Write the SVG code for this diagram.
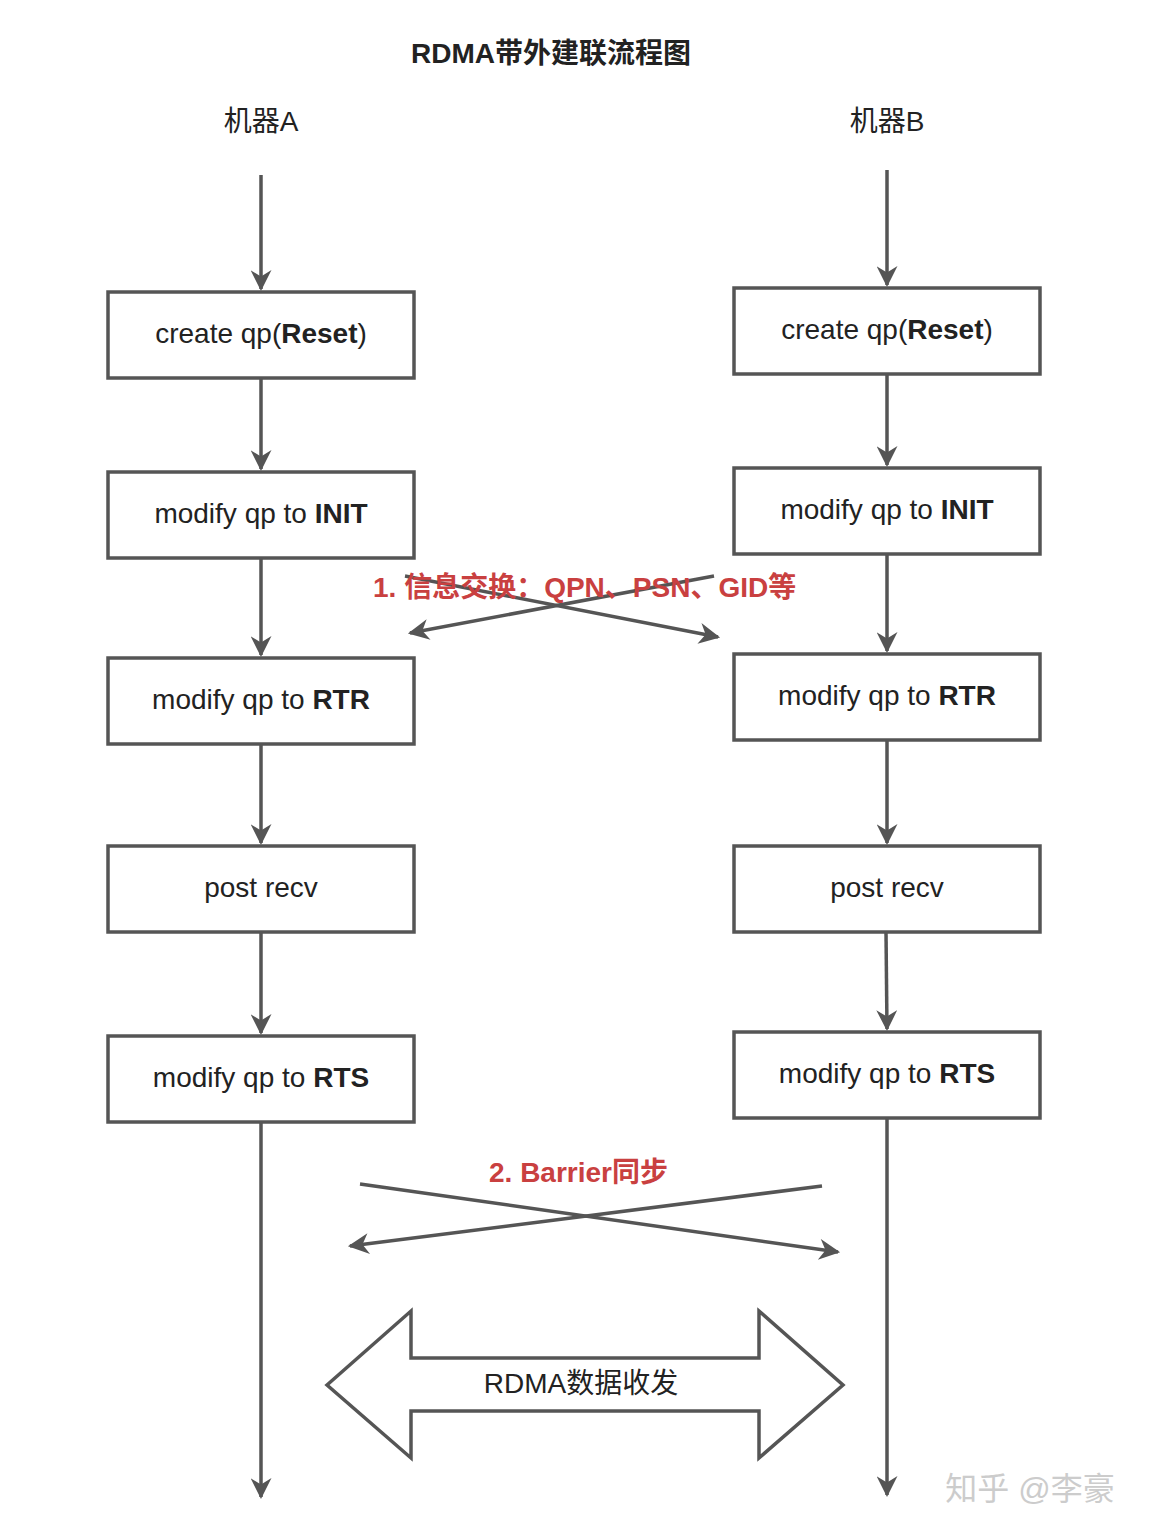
<svg xmlns="http://www.w3.org/2000/svg" width="1149" height="1533" viewBox="0 0 1149 1533">
<style>
.box{fill:#fff;stroke:#555;stroke-width:3.5}
.t{font-family:"Liberation Sans","Noto Sans CJK SC",sans-serif;font-size:28px;fill:#222;text-anchor:middle}
.c{stroke:#555;stroke-width:3.5;fill:none}
.r{font-family:"Liberation Sans","Noto Sans CJK SC",sans-serif;font-size:28px;font-weight:bold;fill:#c94040}
</style>
<defs>
<marker id="a" viewBox="0 0 10 10" refX="9" refY="5" markerWidth="6.5" markerHeight="6" orient="auto" markerUnits="strokeWidth"><path d="M0,0 L10,5 L0,10 L3,5z" fill="#555"/></marker>
</defs>
<rect width="1149" height="1533" fill="#fff"/>
<text x="551" y="63" class="t" font-weight="bold">RDMA带外建联流程图</text>
<text x="261" y="131" class="t">机器A</text>
<text x="887" y="131" class="t">机器B</text>
<g id="connectors">
<path class="c" marker-end="url(#a)" d="M261,175V289"/>
<path class="c" marker-end="url(#a)" d="M261,378V469"/>
<path class="c" marker-end="url(#a)" d="M261,558V655"/>
<path class="c" marker-end="url(#a)" d="M261,744V843"/>
<path class="c" marker-end="url(#a)" d="M261,932V1033"/>
<path class="c" marker-end="url(#a)" d="M261,1122V1497"/>
<path class="c" marker-end="url(#a)" d="M887,170V285"/>
<path class="c" marker-end="url(#a)" d="M887,374V465"/>
<path class="c" marker-end="url(#a)" d="M887,554V651"/>
<path class="c" marker-end="url(#a)" d="M887,740V843"/>
<path class="c" marker-end="url(#a)" d="M886,932L887,1029"/>
<path class="c" marker-end="url(#a)" d="M887,1118V1495"/>
<path class="c" marker-end="url(#a)" d="M405,576L718,637"/>
<path class="c" marker-end="url(#a)" d="M714,576L410,633"/>
<path class="c" marker-end="url(#a)" d="M360,1184L838,1252"/>
<path class="c" marker-end="url(#a)" d="M822,1186L350,1246"/>
</g>
<g id="n1"><rect class="box" x="108" y="292" width="306" height="86"/><text x="261" y="343" class="t">create qp(<tspan font-weight="bold">Reset</tspan>)</text></g>
<g id="n2"><rect class="box" x="108" y="472" width="306" height="86"/><text x="261" y="523" class="t">modify qp to <tspan font-weight="bold">INIT</tspan></text></g>
<g id="n3"><rect class="box" x="108" y="658" width="306" height="86"/><text x="261" y="709" class="t">modify qp to <tspan font-weight="bold">RTR</tspan></text></g>
<g id="n4"><rect class="box" x="108" y="846" width="306" height="86"/><text x="261" y="897" class="t">post recv</text></g>
<g id="n5"><rect class="box" x="108" y="1036" width="306" height="86"/><text x="261" y="1087" class="t">modify qp to <tspan font-weight="bold">RTS</tspan></text></g>
<g id="m1"><rect class="box" x="734" y="288" width="306" height="86"/><text x="887" y="339" class="t">create qp(<tspan font-weight="bold">Reset</tspan>)</text></g>
<g id="m2"><rect class="box" x="734" y="468" width="306" height="86"/><text x="887" y="519" class="t">modify qp to <tspan font-weight="bold">INIT</tspan></text></g>
<g id="m3"><rect class="box" x="734" y="654" width="306" height="86"/><text x="887" y="705" class="t">modify qp to <tspan font-weight="bold">RTR</tspan></text></g>
<g id="m4"><rect class="box" x="734" y="846" width="306" height="86"/><text x="887" y="897" class="t">post recv</text></g>
<g id="m5"><rect class="box" x="734" y="1032" width="306" height="86"/><text x="887" y="1083" class="t">modify qp to <tspan font-weight="bold">RTS</tspan></text></g>
<text x="373" y="597" class="r">1. 信息交换：QPN、PSN、GID等</text>
<text x="489" y="1182" class="r">2. Barrier同步</text>
<g id="data"><path class="box" d="M327,1385L411,1311V1358H759V1311L843,1385L759,1458V1411H411V1458Z"/><text x="581" y="1393" class="t">RDMA数据收发</text></g>
<text x="1030" y="1500" class="t" style="fill:#ccc;font-size:32px">知乎 @李豪</text>
</svg>
